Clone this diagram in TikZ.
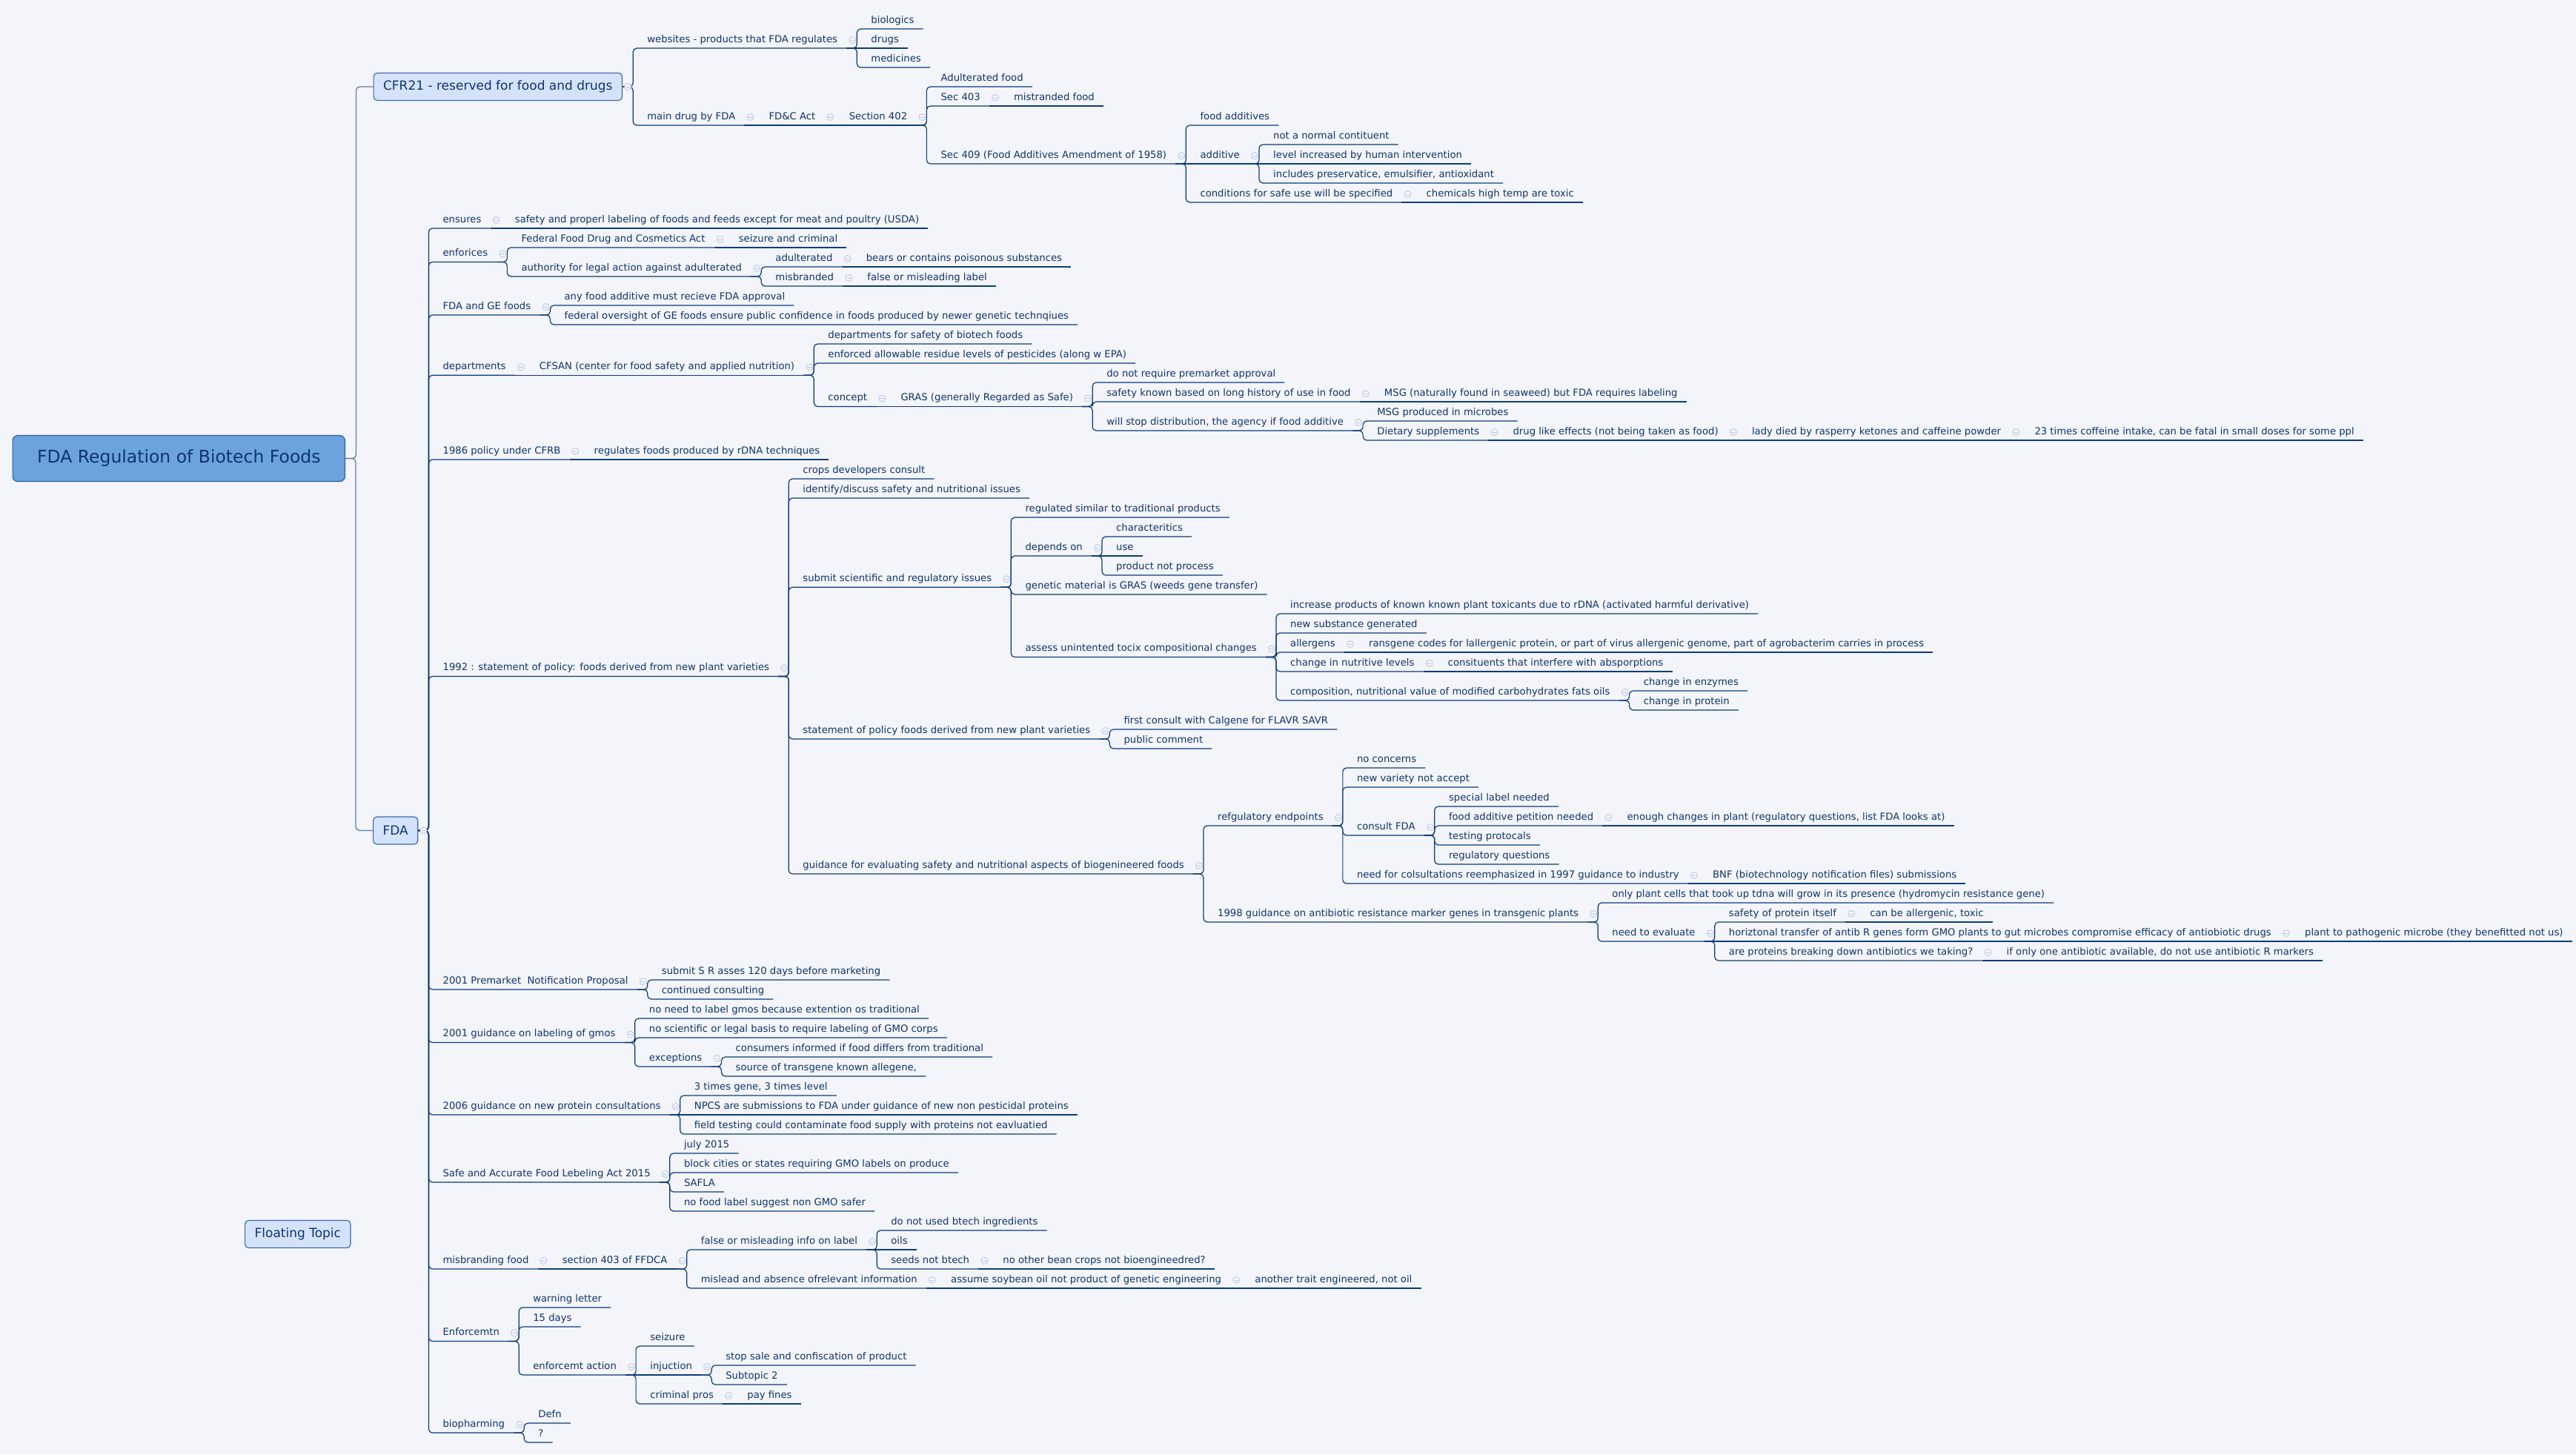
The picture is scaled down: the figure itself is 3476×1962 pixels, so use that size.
\documentclass[tikz,border=0pt]{standalone}
\usepackage{fontspec}
\setmainfont{DejaVu Sans}

\definecolor{bgcol}{HTML}{F3F5FA}
\definecolor{linecol}{HTML}{0C3C7C}
\definecolor{spinecol}{HTML}{5E7DA8}
\definecolor{textcol}{HTML}{10336A}
\definecolor{titlecol}{HTML}{0E3470}
\definecolor{rootfill}{HTML}{6CA3DF}
\definecolor{rootline}{HTML}{2C5E9E}
\definecolor{boxfill}{HTML}{D5E2FB}
\definecolor{boxline}{HTML}{3E6AAE}
\definecolor{foldcol}{HTML}{B9C5E2}

% a topic hanging off its parent with a bent branch (parent anchor optional)
\newcommand\mmtwig[5][south east]{%
  \node[topic, xshift=21pt] (#2) at (#3.east |- 0,#4) {#5};
  \draw[branch] (#3.#1) -| ([xshift=-7pt]#2.south west) -- (#2.south east);}
% a topic on the same line as its parent
\newcommand\mmchain[4]{%
  \node[topic, xshift=21pt] (#1) at (#2.east |- 0,#3) {#4};
  \draw[branch] (#2.south east) -- (#1.south east);}

\begin{document}
\begin{tikzpicture}[
  x=1pt, y=-1pt,
  % branches
  branch/.style={draw=linecol, line width=1.2pt, rounded corners=5pt},
  rootlink/.style={draw=spinecol, line width=1.3pt, rounded corners=5pt},
  % topics and boxes
  topic/.style={anchor=south west, inner xsep=12pt, inner ysep=0pt, text height=10pt,
    text depth=7.5pt, text=textcol, font=\fontsize{13.2}{15}\selectfont},
  rootbox/.style={draw=rootline, fill=rootfill, line width=1.2pt, rounded corners=7pt,
    anchor=west, inner xsep=33pt, minimum height=62pt, text=titlecol,
    font=\fontsize{23.5}{28}\selectfont},
  subbox/.style={draw=boxline, fill=boxfill, line width=1.2pt, rounded corners=5pt,
    anchor=west, inner xsep=13pt, minimum height=37pt, text=titlecol,
    font=\fontsize{17}{20}\selectfont},
  % collapse marks
  fold/.style={circle, draw=foldcol, fill=bgcol, line width=0.8pt, minimum size=9pt, inner sep=0pt,
    path picture={\draw[foldcol, line width=0.8pt] ([xshift=2pt]path picture bounding box.west)
      -- ([xshift=-2pt]path picture bounding box.east);}}
]

  \useasboundingbox (0,0) rectangle (3476,1962);
  \fill[bgcol] (0,0) rectangle (3476,1962);

  % central topic and main topics
  \node[rootbox] (root) at (16.5,618.5) {FDA Regulation of Biotech Foods};
  \node[subbox] (cfr) at (503.5,117) {CFR21 - reserved for food and drugs};
  \node[subbox] (fda) at (503,1120.5) {FDA};
  \node[subbox] (floating) at (330,1665) {Floating Topic};
  \draw[rootlink] (root.east) -| ([xshift=-23pt]cfr.west) -- (cfr.west);
  \draw[rootlink] (root.east) -| ([xshift=-23pt]fda.west) -- (fda.west);

  % CFR21
  \mmtwig[east]{web}{cfr}{65}{websites - products that FDA regulates}
  \mmtwig{bio}{web}{39}{biologics}
  \mmchain{drugs}{web}{65}{drugs}
  \mmtwig{med}{web}{91}{medicines}
  \mmtwig[east]{maindrug}{cfr}{169}{main drug by FDA}
  \mmchain{fdc}{maindrug}{169}{FD\&C Act}
  \mmchain{sec402}{fdc}{169}{Section 402}
  \mmtwig{adult}{sec402}{117}{Adulterated food}
  \mmtwig{sec403}{sec402}{143}{Sec 403}
  \mmchain{mistr}{sec403}{143}{mistranded food}
  \mmtwig{sec409}{sec402}{221}{Sec 409 (Food Additives Amendment of 1958)}
  \mmtwig{foodadd}{sec409}{169}{food additives}
  \mmchain{additive}{sec409}{221}{additive}
  \mmtwig{notnorm}{additive}{195}{not a normal contituent}
  \mmchain{levelinc}{additive}{221}{level increased by human intervention}
  \mmtwig{incl}{additive}{247}{includes preservatice, emulsifier, antioxidant}
  \mmtwig{cond}{sec409}{273}{conditions for safe use will be specified}
  \mmchain{chem}{cond}{273}{chemicals high temp are toxic}

  % FDA: ensures, enforces, GE foods
  \mmtwig[east]{ensures}{fda}{308}{ensures}
  \mmchain{ensuresA}{ensures}{308}{safety and properl labeling of foods and feeds except for meat and poultry (USDA)}
  \mmtwig[east]{enforces}{fda}{353.5}{enforices}
  \mmtwig{ffdca}{enforces}{334}{Federal Food Drug and Cosmetics Act}
  \mmchain{seizcrim}{ffdca}{334}{seizure and criminal}
  \mmtwig{legal}{enforces}{373}{authority for legal action against adulterated}
  \mmtwig{adulterated}{legal}{360}{adulterated}
  \mmchain{poison}{adulterated}{360}{bears or contains poisonous substances}
  \mmtwig{misbr}{legal}{386}{misbranded}
  \mmchain{falselab}{misbr}{386}{false or misleading label}
  \mmtwig[east]{gefoods}{fda}{425}{FDA and GE foods}
  \mmtwig{approval}{gefoods}{412}{any food additive must recieve FDA approval}
  \mmtwig{oversight}{gefoods}{438}{federal oversight of GE foods ensure public confidence in foods produced by newer genetic technqiues}

  % FDA: departments
  \mmtwig[east]{depts}{fda}{506.25}{departments}
  \mmchain{cfsan}{depts}{506.25}{CFSAN (center for food safety and applied nutrition)}
  \mmtwig{deptsafety}{cfsan}{464}{departments for safety of biotech foods}
  \mmtwig{residue}{cfsan}{490}{enforced allowable residue levels of pesticides (along w EPA)}
  \mmtwig{concept}{cfsan}{548.5}{concept}
  \mmchain{gras}{concept}{548.5}{GRAS (generally Regarded as Safe)}
  \mmtwig{premkt}{gras}{516}{do not require premarket approval}
  \mmtwig{history}{gras}{542}{safety known based on long history of use in food}
  \mmchain{msg}{history}{542}{MSG (naturally found in seaweed) but FDA requires labeling}
  \mmtwig{stopdist}{gras}{581}{will stop distribution, the agency if food additive}
  \mmtwig{msgmic}{stopdist}{568}{MSG produced in microbes}
  \mmtwig{dietary}{stopdist}{594}{Dietary supplements}
  \mmchain{druglike}{dietary}{594}{drug like effects (not being taken as food)}
  \mmchain{lady}{druglike}{594}{lady died by rasperry ketones and caffeine powder}
  \mmchain{coffeine}{lady}{594}{23 times coffeine intake, can be fatal in small doses for some ppl}
  \mmtwig[east]{pol86}{fda}{620}{1986 policy under CFRB}
  \mmchain{rdna}{pol86}{620}{regulates foods produced by rDNA techniques}

  % FDA: 1992 statement of policy
  \mmtwig[east]{pol92}{fda}{912.5}{1992 : statement of policy: foods derived from new plant varieties}
  \mmtwig{crops}{pol92}{646}{crops developers consult}
  \mmtwig{identify}{pol92}{672}{identify/discuss safety and nutritional issues}
  \mmtwig{submit}{pol92}{792.25}{submit scientific and regulatory issues}
  \mmtwig{similar}{submit}{698}{regulated similar to traditional products}
  \mmtwig{depends}{submit}{750}{depends on}
  \mmtwig{charac}{depends}{724}{characteritics}
  \mmchain{use}{depends}{750}{use}
  \mmtwig{product}{depends}{776}{product not process}
  \mmtwig{genetic}{submit}{802}{genetic material is GRAS (weeds gene transfer)}
  \mmtwig{assess}{submit}{886.5}{assess unintented tocix compositional changes}
  \mmtwig{toxicants}{assess}{828}{increase products of known known plant toxicants due to rDNA (activated harmful derivative)}
  \mmtwig{newsub}{assess}{854}{new substance generated}
  \mmtwig{allergens}{assess}{880}{allergens}
  \mmchain{transgene}{allergens}{880}{ransgene codes for lallergenic protein, or part of virus allergenic genome, part of agrobacterim carries in process}
  \mmtwig{nutritive}{assess}{906}{change in nutritive levels}
  \mmchain{absorb}{nutritive}{906}{consituents that interfere with absporptions}
  \mmtwig{compos}{assess}{945}{composition, nutritional value of modified carbohydrates fats oils}
  \mmtwig{enzymes}{compos}{932}{change in enzymes}
  \mmtwig{protein}{compos}{958}{change in protein}
  \mmtwig{stmt}{pol92}{997}{statement of policy foods derived from new plant varieties}
  \mmtwig{calgene}{stmt}{984}{first consult with Calgene for FLAVR SAVR}
  \mmtwig{pubcom}{stmt}{1010}{public comment}
  \mmtwig{guide}{pol92}{1179}{guidance for evaluating safety and nutritional aspects of biogenineered foods}
  \mmtwig{endpts}{guide}{1114}{refgulatory endpoints}
  \mmtwig{noconc}{endpts}{1036}{no concerns}
  \mmtwig{newvar}{endpts}{1062}{new variety not accept}
  \mmtwig{consult}{endpts}{1127}{consult FDA}
  \mmtwig{speclab}{consult}{1088}{special label needed}
  \mmtwig{petition}{consult}{1114}{food additive petition needed}
  \mmchain{changes}{petition}{1114}{enough changes in plant (regulatory questions, list FDA looks at)}
  \mmtwig{testing}{consult}{1140}{testing protocals}
  \mmtwig{regq}{consult}{1166}{regulatory questions}
  \mmtwig{need97}{endpts}{1192}{need for colsultations reemphasized in 1997 guidance to industry}
  \mmchain{bnf}{need97}{1192}{BNF (biotechnology notification files) submissions}
  \mmtwig{guide98}{guide}{1244}{1998 guidance on antibiotic resistance marker genes in transgenic plants}
  \mmtwig{cells}{guide98}{1218}{only plant cells that took up tdna will grow in its presence (hydromycin resistance gene)}
  \mmtwig{evaluate}{guide98}{1270}{need to evaluate}
  \mmtwig{protsafe}{evaluate}{1244}{safety of protein itself}
  \mmchain{allerg}{protsafe}{1244}{can be allergenic, toxic}
  \mmchain{horiz}{evaluate}{1270}{horiztonal transfer of antib R genes form GMO plants to gut microbes compromise efficacy of antiobiotic drugs}
  \mmchain{pathogen}{horiz}{1270}{plant to pathogenic microbe (they benefitted not us)}
  \mmtwig{breakdown}{evaluate}{1296}{are proteins breaking down antibiotics we taking?}
  \mmchain{onlyone}{breakdown}{1296}{if only one antibiotic available, do not use antibiotic R markers}

  % FDA: 2001 - 2015
  \mmtwig[east]{pre01}{fda}{1335}{2001 Premarket\ \ Notification Proposal}
  \mmtwig{asses120}{pre01}{1322}{submit S R asses 120 days before marketing}
  \mmtwig{contcons}{pre01}{1348}{continued consulting}
  \mmtwig[east]{lab01}{fda}{1406.5}{2001 guidance on labeling of gmos}
  \mmtwig{nolabel}{lab01}{1374}{no need to label gmos because extention os traditional}
  \mmtwig{nobasis}{lab01}{1400}{no scientific or legal basis to require labeling of GMO corps}
  \mmtwig{except}{lab01}{1439}{exceptions}
  \mmtwig{informed}{except}{1426}{consumers informed if food differs from traditional}
  \mmtwig{source}{except}{1452}{source of transgene known allegene,}
  \mmtwig[east]{prot06}{fda}{1504}{2006 guidance on new protein consultations}
  \mmtwig{three}{prot06}{1478}{3 times gene, 3 times level}
  \mmchain{npcs}{prot06}{1504}{NPCS are submissions to FDA under guidance of new non pesticidal proteins}
  \mmtwig{field}{prot06}{1530}{field testing could contaminate food supply with proteins not eavluatied}
  \mmtwig[east]{safla15}{fda}{1595}{Safe and Accurate Food Lebeling Act 2015}
  \mmtwig{july}{safla15}{1556}{july 2015}
  \mmtwig{block}{safla15}{1582}{block cities or states requiring GMO labels on produce}
  \mmtwig{safla}{safla15}{1608}{SAFLA}
  \mmtwig{nonGMO}{safla15}{1634}{no food label suggest non GMO safer}

  % FDA: misbranding, enforcement, biopharming
  \mmtwig[east]{misfood}{fda}{1712}{misbranding food}
  \mmchain{sec403f}{misfood}{1712}{section 403 of FFDCA}
  \mmtwig{falseinfo}{sec403f}{1686}{false or misleading info on label}
  \mmtwig{btech}{falseinfo}{1660}{do not used btech ingredients}
  \mmchain{oils}{falseinfo}{1686}{oils}
  \mmtwig{seeds}{falseinfo}{1712}{seeds not btech}
  \mmchain{bean}{seeds}{1712}{no other bean crops not bioengineedred?}
  \mmtwig{mislead}{sec403f}{1738}{mislead and absence ofrelevant information}
  \mmchain{soybean}{mislead}{1738}{assume soybean oil not product of genetic engineering}
  \mmchain{trait}{soybean}{1738}{another trait engineered, not oil}
  \mmtwig[east]{enfmt}{fda}{1809.5}{Enforcemtn}
  \mmtwig{warning}{enfmt}{1764}{warning letter}
  \mmtwig{days}{enfmt}{1790}{15 days}
  \mmtwig{action}{enfmt}{1855}{enforcemt action}
  \mmtwig{seizure}{action}{1816}{seizure}
  \mmchain{injuct}{action}{1855}{injuction}
  \mmtwig{stopsale}{injuct}{1842}{stop sale and confiscation of product}
  \mmtwig{subtopic}{injuct}{1868}{Subtopic 2}
  \mmtwig{crimpros}{action}{1894}{criminal pros}
  \mmchain{fines}{crimpros}{1894}{pay fines}
  \mmtwig[east]{biopharm}{fda}{1933}{biopharming}
  \mmtwig{defn}{biopharm}{1920}{Defn}
  \mmtwig{qmark}{biopharm}{1946}{?}

  % collapse marks
  \foreach \p in {cfr,fda}
    \node[fold] at ([xshift=7pt]\p.east) {};
  \foreach \p in {web,maindrug,fdc,sec402,sec403,sec409,additive,cond,ensures,enforces,ffdca,
      legal,adulterated,misbr,gefoods,depts,cfsan,concept,gras,history,stopdist,dietary,druglike,
      lady,pol86,pol92,submit,depends,assess,allergens,nutritive,compos,stmt,guide,endpts,consult,
      petition,need97,guide98,evaluate,protsafe,horiz,breakdown,pre01,lab01,except,prot06,safla15,
      misfood,sec403f,falseinfo,seeds,mislead,soybean,enfmt,action,injuct,crimpros,biopharm}
    \node[fold] at ([xshift=8pt,yshift=11pt]\p.south east) {};

\end{tikzpicture}
\end{document}
